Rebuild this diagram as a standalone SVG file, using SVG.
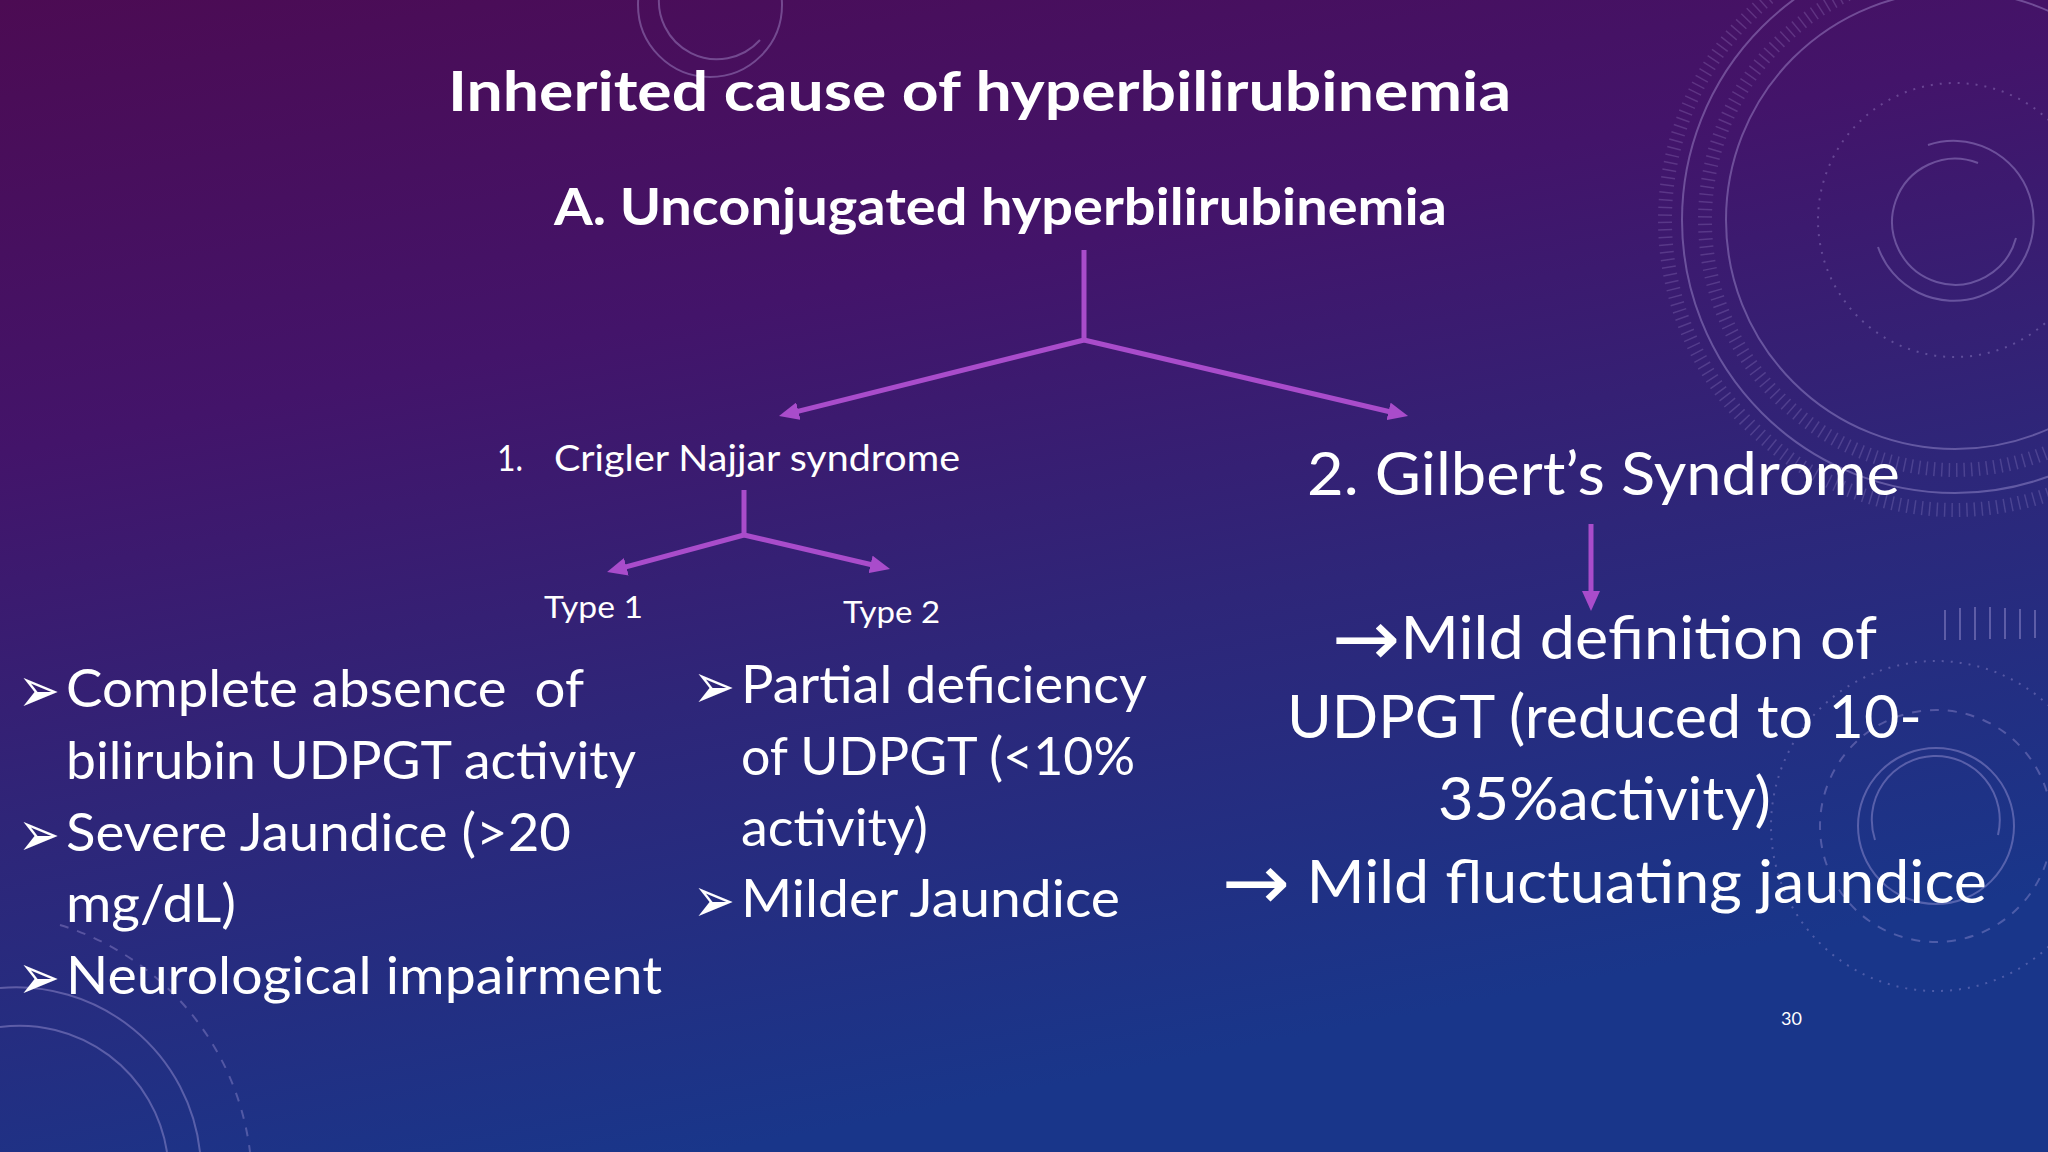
<svg xmlns="http://www.w3.org/2000/svg" width="2048" height="1152" viewBox="0 0 2048 1152">
<defs>
<linearGradient id="bg" x1="0" y1="0" x2="0.35" y2="1">
<stop offset="0" stop-color="#4c0b53"/>
<stop offset="0.35" stop-color="#43146a"/>
<stop offset="0.65" stop-color="#2e2679"/>
<stop offset="1" stop-color="#19368a"/>
</linearGradient>
<marker id="ah" markerUnits="userSpaceOnUse" markerWidth="20" markerHeight="18" refX="10" refY="9" orient="auto">
<path d="M0,0 L20,9 L0,18 z" fill="#a94ccb"/>
</marker>
<style>
.t{fill:#ffffff;font-family:Lato,"Open Sans","Liberation Sans",sans-serif}
.b{font-weight:700}
.sym{font-family:"DejaVu Sans",sans-serif;font-size:78px}
.bul{font-family:"DejaVu Sans",sans-serif;font-size:64px}
.c{fill:none;stroke:#a94ccb;stroke-width:5;stroke-linecap:butt}
.d{fill:none;stroke:#c7b6f2;stroke-opacity:0.35;stroke-width:2}
.dt{fill:none;stroke:#c7b6f2;stroke-opacity:0.3;stroke-width:2;stroke-dasharray:2 7}
.ds{fill:none;stroke:#c7b6f2;stroke-opacity:0.3;stroke-width:2;stroke-dasharray:9 9}
.tk{fill:none;stroke:#c7b6f2;stroke-opacity:0.2;stroke-width:14;stroke-dasharray:1.5 6}
</style>
</defs>
<rect x="0" y="0" width="2048" height="1152" fill="url(#bg)"/>
<g id="background">
<circle class="d" cx="1955" cy="220" r="273"/>
<circle class="d" cx="1955" cy="220" r="229"/>
<circle class="tk" cx="1955" cy="220" r="250"/>
<circle class="tk" cx="1955" cy="220" r="290"/>
<circle class="dt" cx="1955" cy="220" r="137"/>
<path class="d" stroke-width="4" d="M1978,163 A63,63 0 1 0 2016,238"/>
<path class="d" d="M1928,145 A80,80 0 1 1 1878,247"/>
<circle class="d" cx="710" cy="5" r="72"/>
<path class="d" stroke-width="3" d="M660,-10 A58,58 0 0 0 760,40"/>
<path class="d" stroke-width="5" d="M0,1027 A149,149 0 0 1 167,1152"/>
<path class="d" d="M0,988 A185,185 0 0 1 200,1152"/>
<path class="ds" d="M60,925 A272,272 0 0 1 250,1152"/>
<path class="d" stroke-width="4" d="M1875,840 A64,64 0 1 1 1998,835"/>
<circle class="d" cx="1936" cy="826" r="78"/>
<circle class="ds" cx="1936" cy="826" r="116"/>
<circle class="dt" cx="1936" cy="826" r="165"/>
<path class="d" stroke-opacity="0.25" d="M1945,610 v30 M1960,608 v32 M1975,607 v33 M1990,607 v32 M2005,608 v31 M2020,609 v30 M2035,610 v28"/>
</g>
<g id="connectors">
<path class="c" d="M1084,250 V340"/>
<path class="c" d="M1084,340 L788.7,413.6" marker-end="url(#ah)"/>
<path class="c" d="M1084,340 L1398.3,413.7" marker-end="url(#ah)"/>
<path class="c" d="M744,490 V535"/>
<path class="c" d="M744,535 L616.7,569.4" marker-end="url(#ah)"/>
<path class="c" d="M744,535 L880.3,566.7" marker-end="url(#ah)"/>
<path class="c" stroke-width="4" d="M1591,524 V601" marker-end="url(#ah)"/>
</g>
<g id="title">
<text class="t b" x="448" y="111" font-size="56" textLength="1063" lengthAdjust="spacingAndGlyphs">Inherited cause of hyperbilirubinemia</text>
</g>
<g id="subtitle">
<text class="t b" x="554" y="225" font-size="51" textLength="893" lengthAdjust="spacingAndGlyphs">A. Unconjugated hyperbilirubinemia</text>
</g>
<g id="crigler-najjar">
<text class="t" x="497" y="471" font-size="36" textLength="26" lengthAdjust="spacingAndGlyphs">1.</text>
<text class="t" x="554" y="471" font-size="36" textLength="406" lengthAdjust="spacingAndGlyphs">Crigler Najjar syndrome</text>
</g>
<g id="type1">
<text class="t" x="544" y="618" font-size="30" textLength="99" lengthAdjust="spacingAndGlyphs">Type 1</text>
</g>
<g id="type2">
<text class="t" x="843" y="623" font-size="30" textLength="97" lengthAdjust="spacingAndGlyphs">Type 2</text>
</g>
<g id="gilbert">
<text class="t" x="1307" y="495" font-size="60" textLength="593" lengthAdjust="spacingAndGlyphs">2. Gilbert’s Syndrome</text>
</g>
<g id="type1-details">
<text class="t" y="707" font-size="52" style="white-space:pre"><tspan class="bul" x="18" dy="5" textLength="42" lengthAdjust="spacingAndGlyphs">➢</tspan><tspan x="66" dy="-5" textLength="518" lengthAdjust="spacingAndGlyphs">Complete absence  of</tspan></text>
<text class="t" x="66" y="779" font-size="52" textLength="570" lengthAdjust="spacingAndGlyphs">bilirubin UDPGT activity</text>
<text class="t" y="851" font-size="52"><tspan class="bul" x="18" dy="5" textLength="42" lengthAdjust="spacingAndGlyphs">➢</tspan><tspan x="66" dy="-5" textLength="505" lengthAdjust="spacingAndGlyphs">Severe Jaundice (&gt;20</tspan></text>
<text class="t" x="66" y="922" font-size="52" textLength="170" lengthAdjust="spacingAndGlyphs">mg/dL)</text>
<text class="t" y="994" font-size="52"><tspan class="bul" x="18" dy="5" textLength="42" lengthAdjust="spacingAndGlyphs">➢</tspan><tspan x="66" dy="-5" textLength="596" lengthAdjust="spacingAndGlyphs">Neurological impairment</tspan></text>
</g>
<g id="type2-details">
<text class="t" y="703" font-size="52"><tspan class="bul" x="693" dy="5" textLength="42" lengthAdjust="spacingAndGlyphs">➢</tspan><tspan x="741" dy="-5" textLength="406" lengthAdjust="spacingAndGlyphs">Partial deficiency</tspan></text>
<text class="t" x="741" y="775" font-size="52" textLength="394" lengthAdjust="spacingAndGlyphs">of UDPGT (&lt;10%</text>
<text class="t" x="741" y="846" font-size="52" textLength="187" lengthAdjust="spacingAndGlyphs">activity)</text>
<text class="t" y="917" font-size="52"><tspan class="bul" x="693" dy="5" textLength="42" lengthAdjust="spacingAndGlyphs">➢</tspan><tspan x="741" dy="-5" textLength="379" lengthAdjust="spacingAndGlyphs">Milder Jaundice</tspan></text>
</g>
<g id="gilbert-details">
<text class="t" x="1332" y="659" font-size="60" textLength="545" lengthAdjust="spacingAndGlyphs"><tspan class="sym" dy="6">→</tspan><tspan dy="-6">Mild definition of</tspan></text>
<text class="t" x="1287" y="738" font-size="60" textLength="635" lengthAdjust="spacingAndGlyphs">UDPGT (reduced to 10-</text>
<text class="t" x="1438" y="820" font-size="60" textLength="333" lengthAdjust="spacingAndGlyphs">35%activity)</text>
<text class="t" x="1222" y="903" font-size="60" style="white-space:pre" textLength="765" lengthAdjust="spacingAndGlyphs"><tspan class="sym" dy="6">→</tspan><tspan dy="-6"> Mild fluctuating jaundice</tspan></text>
</g>
<g id="page-number">
<text class="t" x="1781" y="1025" font-size="18">30</text>
</g>
</svg>
